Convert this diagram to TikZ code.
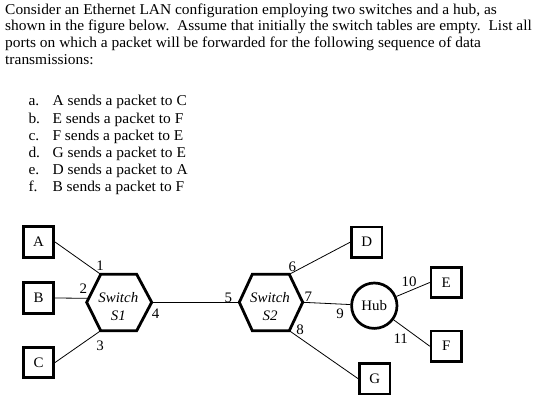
\documentclass[tikz,border=0pt]{standalone}
\usepackage{fontspec}
\setmainfont{Liberation Serif}[FakeStretch=1.03]
\begin{document}
\begin{tikzpicture}[x=1pt,y=-1pt,
  txt/.style={anchor=base west,inner sep=0pt,font=\fontsize{15}{17}\selectfont},
  hostbox/.style={draw,line width=2.7pt,minimum size=30.4pt,inner sep=0pt,font=\fontsize{14.5}{16}\selectfont},
  hexline/.style={line width=2.8pt,line join=miter},
  hubnode/.style={draw,circle,line width=2.7pt,minimum size=45.4pt,inner sep=0pt,font=\fontsize{14.5}{16}\selectfont},
  wire/.style={line width=0.8pt},
  port/.style={inner sep=0pt,font=\fontsize{14.5}{16}\selectfont},
  swlabel/.style={align=center,inner sep=0pt,font=\fontsize{14.5}{18}\selectfont\itshape}]
\useasboundingbox (0,0) rectangle (541,417);
% question text
\node[txt] (l1) at (5,14.3) {Consider an Ethernet LAN configuration employing two switches and a hub, as};
\node[txt] (l2) at (5,31) {shown in the figure below.\ \ Assume that initially the switch tables are empty.\ \ List all};
\node[txt] (l3) at (5,47.7) {ports on which a packet will be forwarded for the following sequence of data};
\node[txt] (l4) at (5,64.3) {transmissions:};
% list
\foreach \lab/\t [count=\i from 0] in {a./A sends a packet to C, b./E sends a packet to F, c./F sends a packet to E, d./G sends a packet to E, e./D sends a packet to A, f./B sends a packet to F}{
  \node[txt] (m\i) at (28.3,106+17.1*\i) {\lab};
  \node[txt] (t\i) at (52.3,106+17.1*\i) {\t};
}
% hosts
\node[hostbox] (A) at (38.5,242) {A};
\node[hostbox] (B) at (38.5,298) {B};
\node[hostbox] (C) at (38.5,362.5) {C};
\node[hostbox] (D) at (366.7,242.2) {D};
\node[hostbox] (E) at (446.3,282.5) {E};
\node[hostbox] (F) at (446.3,346.2) {F};
\node[hostbox] (G) at (374.7,378.7) {G};
% switch S1
\coordinate (s1w) at (86.7,302.3);
\coordinate (s1nw) at (100.7,274.3);
\coordinate (s1ne) at (136.7,274.3);
\coordinate (s1e) at (151.7,302.3);
\coordinate (s1se) at (136.7,330.7);
\coordinate (s1sw) at (100.7,330.7);
\coordinate (s1b) at (88.6,298.3);
\draw[hexline] (s1w) -- (s1nw) -- (s1ne) -- (s1e) -- (s1se) -- (s1sw) -- cycle;
\node[swlabel] (S1) at (118.3,306.7) {Switch\\S1};
% switch S2
\coordinate (s2w) at (239.3,302.3);
\coordinate (s2nw) at (252.3,274.3);
\coordinate (s2ne) at (289.3,274.3);
\coordinate (s2e) at (302.7,302.3);
\coordinate (s2se) at (289.3,330.7);
\coordinate (s2sw) at (252.3,330.7);
\draw[hexline] (s2w) -- (s2nw) -- (s2ne) -- (s2e) -- (s2se) -- (s2sw) -- cycle;
\node[swlabel] (S2) at (270,306.7) {Switch\\S2};
% hub
\node[hubnode] (H) at (374.3,305.7) {Hub};
% wires
\draw[wire] (A.east) -- (s1nw);
\draw[wire] (B.east) -- (s1b);
\draw[wire] (C.east) -- (s1sw);
\draw[wire] (s1e) -- (s2w);
\draw[wire] (s2ne) -- (D.west);
\draw[wire] (s2e) -- (H);
\draw[wire] (s2se) -- (G.west);
\draw[wire] (H) -- (E.west);
\draw[wire] (H) -- (F.west);
% ports
\node[port] (p1) at (100,265.7) {1};
\node[port] (p2) at (83.3,289) {2};
\node[port] (p3) at (100,346) {3};
\node[port] (p4) at (155.7,314) {4};
\node[port] (p5) at (228.3,297.7) {5};
\node[port] (p6) at (292.3,266.7) {6};
\node[port] (p7) at (308.3,296.7) {7};
\node[port] (p8) at (300,329.3) {8};
\node[port] (p9) at (340,313.3) {9};
\node[port] (p10) at (409,281.7) {10};
\node[port] (p11) at (400.7,338.3) {11};
\end{tikzpicture}
\end{document}
